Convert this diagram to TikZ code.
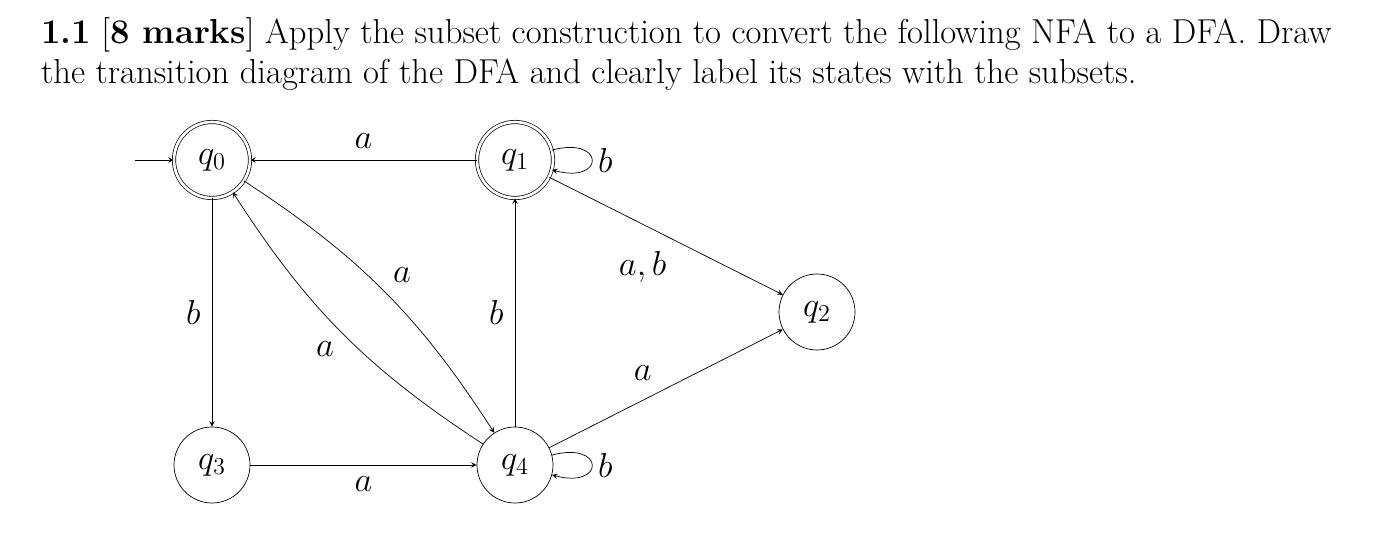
\RequirePackage{fix-cm}
\documentclass[tikz,border=0pt]{standalone}
\usetikzlibrary{automata,positioning}
\begin{document}
\begin{tikzpicture}
[>=stealth,font=\fontsize{19.7}{24}\selectfont,
state/.style={draw,circle,minimum size=1.52cm,inner sep=0pt},
final/.style={state,double,double distance=1.5pt},
edge/.style={->,thin}]

\useasboundingbox (0,0) rectangle (27.84,10.68);

%Question text
\node (head1) at (0.7,9.8)[anchor=base west] {\textbf{1.1} [\textbf{8 marks}] Apply the subset construction to convert the following NFA to a DFA. Draw};
\node (head2) at (0.7,9.0)[anchor=base west] {the transition diagram of the DFA and clearly label its states with the subsets.};

%States
\node (q0) at (4.24,7.48)[final] {$q_0$};
\node (q1) at (10.30,7.48)[final] {$q_1$};
\node (q2) at (16.34,4.44)[state] {$q_2$};
\node (q3) at (4.24,1.38)[state] {$q_3$};
\node (q4) at (10.30,1.38)[state] {$q_4$};
\coordinate (start) at (2.7,7.48);

%Transitions
\draw[edge] (start) -- (q0);
\draw[edge] (q1) -- node[above=3pt] {$a$} (q0);
\draw[edge] (q0) -- node[left=3pt] {$b$} (q3);
\draw[edge] (q3) -- node[below=3pt] {$a$} (q4);
\draw[edge] (q4) -- node[left=3pt] {$b$} (q1);
\draw[edge] (q1) -- node[pos=0.4,below=12pt] {$a,b$} (q2);
\draw[edge] (q4) -- node[pos=0.4,above=8pt] {$a$} (q2);
\draw[edge] (q0) to[bend left=12] node[above right=2pt] {$a$} (q4);
\draw[edge] (q4) to[bend left=12] node[below left=2pt] {$a$} (q0);
\draw[edge] (q1) to[loop right,looseness=5,min distance=1.1cm] node[right] {$b$} (q1);
\draw[edge] (q4) to[loop right,looseness=5,min distance=1.1cm] node[right] {$b$} (q4);

\end{tikzpicture}
\end{document}
